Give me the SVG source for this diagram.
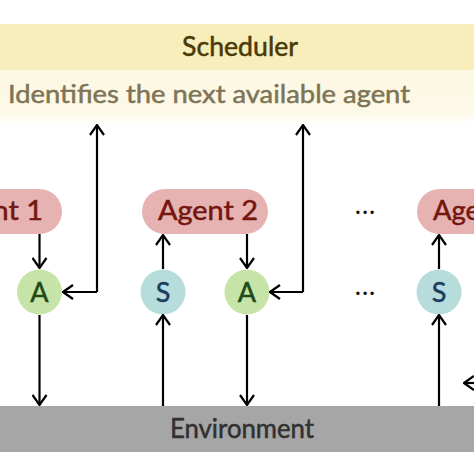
<svg xmlns="http://www.w3.org/2000/svg" width="474" height="474" viewBox="0 0 474 474">
<defs>
<linearGradient id="fade" x1="0" y1="0" x2="0" y2="1">
<stop offset="0" stop-color="#fdf8e2"/>
<stop offset="0.8" stop-color="#fdf9e8"/>
<stop offset="1" stop-color="#ffffff"/>
</linearGradient>
<marker id="ah" viewBox="0 0 12 16" refX="11" refY="8" markerWidth="12" markerHeight="16" markerUnits="userSpaceOnUse" orient="auto">
<path d="M1,1 L11,8 L1,15" fill="none" stroke="#000" stroke-width="2.2"/>
</marker>
</defs>
<style>
text{font-family:"Lato","Liberation Sans",sans-serif;stroke-width:0.5px;}
.agent rect{fill:#e6b3b2;}
.agent text{fill:#74160f;stroke:#74160f;font-size:26px;}
.act circle{fill:#c6e4a8;}
.act text{fill:#214a17;stroke:#214a17;font-size:27px;text-anchor:middle;}
.st circle{fill:#b6dcdb;}
.st text{fill:#1c3d5c;stroke:#1c3d5c;font-size:27px;text-anchor:middle;}
.conn path{fill:none;stroke:#000;stroke-width:2.2;marker-end:url(#ah);}
.dots{font-size:22px;font-weight:bold;fill:#111;text-anchor:middle;letter-spacing:2px;}
</style>
<rect width="474" height="474" fill="#fff"/>
<g id="scheduler">
<rect x="0" y="24" width="474" height="46" fill="#f8eebb"/>
<rect x="0" y="70" width="474" height="54" fill="url(#fade)"/>
<text x="182" y="56" font-size="26" fill="#4a3a08" stroke="#4a3a08" textLength="116" lengthAdjust="spacingAndGlyphs">Scheduler</text>
<text x="8" y="103" font-size="25" fill="#7e7556" stroke="#7e7556" stroke-width="0.4" textLength="402" lengthAdjust="spacingAndGlyphs">Identifies the next available agent</text>
</g>
<g id="environment">
<rect x="0" y="406" width="474" height="46" fill="#a6a6a6"/>
<text x="170" y="438" font-size="26" fill="#303030" stroke="#303030" textLength="144" lengthAdjust="spacingAndGlyphs">Environment</text>
</g>
<g id="agent1" class="agent"><rect x="-64" y="189" width="126" height="45" rx="22.5"/><text x="-57" y="220" textLength="100" lengthAdjust="spacingAndGlyphs">Agent 1</text></g>
<g id="agent2" class="agent"><rect x="142" y="189" width="126" height="45" rx="22.5"/><text x="158" y="220" textLength="100" lengthAdjust="spacingAndGlyphs">Agent 2</text></g>
<g id="agentN" class="agent"><rect x="417" y="189" width="126" height="45" rx="22.5"/><text x="433" y="220" textLength="100" lengthAdjust="spacingAndGlyphs">Agent N</text></g>
<g id="a1" class="act"><circle cx="39.5" cy="292" r="22.5"/><text x="39.5" y="302">A</text></g>
<g id="s2" class="st"><circle cx="163" cy="292" r="22.5"/><text x="163" y="302">S</text></g>
<g id="a2" class="act"><circle cx="247" cy="292" r="22.5"/><text x="247" y="302">A</text></g>
<g id="sN" class="st"><circle cx="439" cy="292" r="22.5"/><text x="439" y="302">S</text></g>
<g id="dots1"><text class="dots" x="366" y="214">...</text></g>
<g id="dots2"><text class="dots" x="366" y="295">...</text></g>
<g id="connectors" class="conn">
<path d="M39.5,234 V268"/>
<path d="M163,269 V235"/>
<path d="M247,234 V268"/>
<path d="M439,269 V235"/>
<path d="M39.5,315 V405"/>
<path d="M163,406 V315"/>
<path d="M247,315 V405"/>
<path d="M439,406 V315"/>
<path d="M97,292 V125"/>
<path d="M97,292 H63"/>
<path d="M303,292 V125"/>
<path d="M303,292 H270"/>
<path d="M480,383 H464"/>
</g>
</svg>
